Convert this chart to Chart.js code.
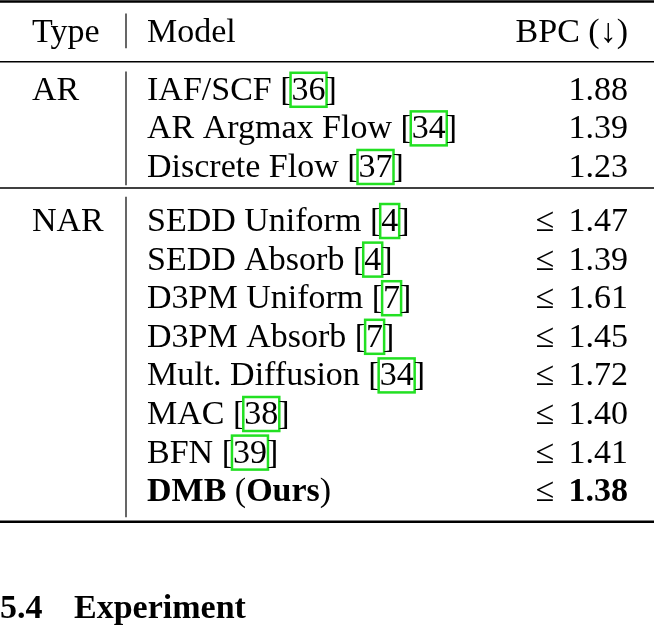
<!DOCTYPE html>
<html>
<head>
<meta charset="utf-8">
<script src="https://cdn.jsdelivr.net/npm/chart.js@4"></script>
<style>
  html, body { margin: 0; padding: 0; background: #fff; }
  #wrap { width: 654px; height: 628px; }
</style>
</head>
<body>
<div id="wrap"><canvas id="tableChart"></canvas></div>
<script>
// table contents
const headers = ["Type", "Model", "BPC (\u2193)"];
const groups = ["AR", "NAR"];
const groupOf = ["AR", "AR", "AR", "NAR", "NAR", "NAR", "NAR", "NAR", "NAR", "NAR", "NAR"];
const modelNames = ["IAF/SCF", "AR Argmax Flow", "Discrete Flow", "SEDD Uniform", "SEDD Absorb",
  "D3PM Uniform", "D3PM Absorb", "Mult. Diffusion", "MAC", "BFN", "DMB"];
const cites = ["36", "34", "37", "4", "4", "7", "7", "34", "38", "39", ""];
const bpcValues = [1.88, 1.39, 1.23, 1.47, 1.39, 1.61, 1.45, 1.72, 1.40, 1.41, 1.38];
const isBound = [false, false, false, true, true, true, true, true, true, true, true];
const oursIndex = 10;
const sectionTitle = ["5.4", "Experiment"];

// row slots on the y scale (one unit = one table row)
const rowSlot = groupOf.map((g, i) => g === "AR" ? 1.5 + i : 4.9 + (i - 3));

const FONT = '"Liberation Serif", "DejaVu Serif", serif';
const SIZE = "34px ";

const tablePlugin = {
  id: "tablePlugin",
  afterDraw(chart) {
    const ctx = chart.ctx;
    const x = chart.scales.x, y = chart.scales.y;
    const px = v => x.getPixelForValue(v);
    const py = v => y.getPixelForValue(v);
    ctx.save();
    ctx.fillStyle = "#000";
    ctx.strokeStyle = "#000";
    ctx.textBaseline = "alphabetic";

    const rule = (v, w) => {
      ctx.lineWidth = w;
      ctx.beginPath();
      ctx.moveTo(px(0), py(v));
      ctx.lineTo(px(654), py(v));
      ctx.stroke();
    };
    rule(-0.76, 2.5);
    rule(0.8, 1.5);
    rule(4.07, 1.5);
    rule(12.72, 2.5);

    const vbar = (a, b) => {
      ctx.lineWidth = 1.2;
      ctx.beginPath();
      ctx.moveTo(px(126), py(a));
      ctx.lineTo(px(126), py(b));
      ctx.stroke();
    };
    vbar(-0.45, 0.45);
    vbar(1.05, 4.0);
    vbar(4.3, 12.6);

    const base = v => py(v) + 11;
    ctx.font = SIZE + FONT;
    ctx.textAlign = "left";
    ctx.fillText(headers[0], px(32), base(0));
    ctx.fillText(headers[1], px(147), base(0));
    ctx.textAlign = "right";
    ctx.fillText(headers[2], px(628), base(0));

    ctx.textAlign = "left";
    groups.forEach(g => {
      const first = groupOf.indexOf(g);
      ctx.font = SIZE + FONT;
      ctx.fillText(g, px(32), base(rowSlot[first]));
    });

    modelNames.forEach((name, i) => {
      const b = base(rowSlot[i]);
      let cx = px(147);
      ctx.textAlign = "left";
      if (i === oursIndex) {
        const parts = [["DMB", true], [" (", false], ["Ours", true], [")", false]];
        parts.forEach(([t, bold]) => {
          ctx.font = (bold ? "bold " : "") + SIZE + FONT;
          ctx.fillText(t, cx, b);
          cx += ctx.measureText(t).width;
        });
      } else {
        ctx.font = SIZE + FONT;
        const t = name + " [";
        ctx.fillText(t, cx, b);
        cx += ctx.measureText(t).width;
        const w = ctx.measureText(cites[i]).width;
        ctx.fillText(cites[i], cx, b);
        ctx.strokeStyle = "#22e022";
        ctx.lineWidth = 2.5;
        ctx.strokeRect(cx - 1, b - 27, w + 2, 34);
        ctx.strokeStyle = "#000";
        cx += w;
        ctx.fillText("]", cx, b);
      }
      // BPC column
      ctx.textAlign = "right";
      const val = bpcValues[i].toFixed(2);
      ctx.font = (i === oursIndex ? "bold " : "") + SIZE + FONT;
      ctx.fillText(val, px(628), b);
      if (isBound[i]) {
        const vw = ctx.measureText(val).width;
        ctx.font = SIZE + FONT;
        ctx.fillText("\u2264", px(628) - vw - 14, b);
      }
    });

    ctx.textAlign = "left";
    ctx.font = "bold " + SIZE + FONT;
    ctx.fillText(sectionTitle[0], px(0), base(14.93));
    ctx.fillText(sectionTitle[1], px(74), base(14.93));
    ctx.restore();
  }
};

new Chart(document.getElementById("tableChart").getContext("2d"), {
  type: "scatter",
  data: { datasets: [{ data: rowSlot.map(r => ({ x: 0, y: r })), pointRadius: 0 }] },
  options: {
    responsive: true,
    maintainAspectRatio: false,
    animation: false,
    layout: { padding: 0 },
    plugins: { legend: { display: false }, tooltip: { enabled: false } },
    scales: {
      x: { display: false, min: 0, max: 654 },
      y: { display: false, reverse: true, min: -0.8, max: 15.47 }
    }
  },
  plugins: [tablePlugin]
});
</script>
</body>
</html>
